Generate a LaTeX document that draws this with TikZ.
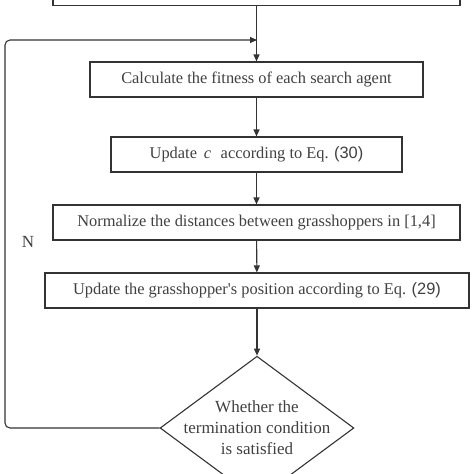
\documentclass[tikz,border=0pt]{standalone}
\usepackage{fontspec}
\setmainfont{Liberation Serif}
\newfontfamily\numfont{Liberation Sans}
\newfontfamily\quotefont{Liberation Serif}[Ligatures=TeXOff]
\usetikzlibrary{shapes.geometric,arrows.meta}
\begin{document}
\begin{tikzpicture}[x=1pt,y=-1pt,
    >={Triangle[length=7pt,width=6pt]},
    box/.style={draw=black!80,line width=1.1pt,minimum height=35pt,inner sep=0pt,
        text=black!75,font=\fontsize{16.4}{19}\selectfont},
    decision/.style={diamond,draw=black!80,line width=1.1pt,shape aspect=1.35,
        inner sep=-5.5pt,align=center,text=black!75,font=\fontsize{17}{21}\selectfont},
    link/.style={->,draw=black!80,line width=1.1pt}]
    \useasboundingbox (0,0) rectangle (474,474);
    \clip (0,0) rectangle (474,474);

    \node[box,minimum width=407pt] (init) at (256.5,-12) {};
    \node[box,minimum width=333pt] (fitness) at (256.5,79.5) {Calculate the fitness of each search agent};
    \node[box,minimum width=291pt] (updc) at (256.5,154.5) {Update \,\textit{c}\,\, according to Eq. {\numfont(30)}};
    \node[box,minimum width=407pt] (norm) at (256.5,222.5) {Normalize the distances between grasshoppers in [1,4]};
    \node[box,minimum width=424pt] (updpos) at (257,290.5) {Update the grasshopper{\quotefont'}s position according to Eq. {\numfont(29)}};
    \node[decision] (stop) at (257,428) {Whether the\\termination condition\\is satisfied};
    \node[text=black!75,font=\fontsize{17}{19}\selectfont] (no) at (28,242) {N};
    \coordinate (join) at (257,40);

    \draw[link] (init) -- (fitness);
    \draw[link] (fitness) -- (updc);
    \draw[link] (updc) -- (norm);
    \draw[link] (norm) -- (updpos);
    \draw[link] (updpos) -- (stop);
    \draw[link,rounded corners=5pt] (stop.west) -- (5,428) -- (5,40) -- (join);
\end{tikzpicture}
\end{document}
